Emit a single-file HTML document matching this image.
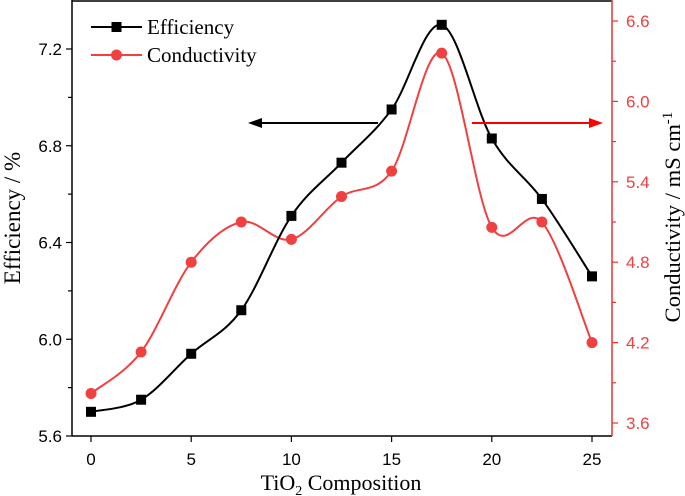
<!DOCTYPE html>
<html><head><meta charset="utf-8"><style>
html,body{margin:0;padding:0;background:#fff;}
svg{display:block;}
</style></head><body>
<svg id="chart" width="685" height="496" xmlns="http://www.w3.org/2000/svg"></svg>
<script>
const categories = [0, 2.5, 5, 7.5, 10, 12.5, 15, 17.5, 20, 22.5, 25];
const efficiency = [5.70, 5.75, 5.94, 6.12, 6.51, 6.73, 6.95, 7.30, 6.83, 6.58, 6.26];
const conductivity = [3.82, 4.13, 4.80, 5.10, 4.97, 5.29, 5.48, 6.36, 5.06, 5.10, 4.20];
const xTicks = [0, 5, 10, 15, 20, 25];
const leftTicks = [5.6, 6.0, 6.4, 6.8, 7.2];
const rightTicks = [3.6, 4.2, 4.8, 5.4, 6.0, 6.6];

const NS = "http://www.w3.org/2000/svg";
const svg = document.getElementById("chart");
const L = 72, R = 612, B = 436, T = 1;
const x = v => 91 + (v - 0) * (592 - 91) / 25;
const yL = v => 436 - (v - 5.6) * (436 - 49) / 1.6;
const yR = v => 423 - (v - 3.6) * (423 - 21) / 3.0;

function el(tag, attrs, parent) {
  const e = document.createElementNS(NS, tag);
  for (const k in attrs) e.setAttribute(k, attrs[k]);
  (parent || svg).appendChild(e);
  return e;
}
function smooth(pts) {
  let d = `M${pts[0][0]},${pts[0][1]}`;
  for (let i = 0; i < pts.length - 1; i++) {
    const p0 = pts[i - 1] || pts[i], p1 = pts[i], p2 = pts[i + 1], p3 = pts[i + 2] || p2;
    const c1 = [p1[0] + (p2[0] - p0[0]) / 6, p1[1] + (p2[1] - p0[1]) / 6];
    const c2 = [p2[0] - (p3[0] - p1[0]) / 6, p2[1] - (p3[1] - p1[1]) / 6];
    d += ` C${c1[0]},${c1[1]} ${c2[0]},${c2[1]} ${p2[0]},${p2[1]}`;
  }
  return d;
}
const font = '"Liberation Sans", sans-serif';
const serif = '"Liberation Serif", serif';

// axes
let a = el("line", {x1: L, y1: T, x2: R, y2: T, stroke: "#000", "stroke-width": 1.5});


a = el("line", {x1: L, y1: 0, x2: L, y2: B, stroke: "#000", "stroke-width": 1.5});


a = el("line", {x1: L, y1: B, x2: R, y2: B, stroke: "#000", "stroke-width": 1.5});


a = el("line", {x1: R, y1: 0, x2: R, y2: B, stroke: "#f03030", "stroke-width": 1.5});



xTicks.forEach(v => {
  el("line", {x1: x(v), y1: B, x2: x(v), y2: B + 6, stroke: "#000", "stroke-width": 1.2});
  const t = el("text", {x: x(v), y: B + 29, "text-anchor": "middle", "font-family": font, "font-size": 17}); t.textContent = v;
  
  
});
leftTicks.forEach((v, i) => {
  el("line", {x1: L - 6, y1: yL(v), x2: L, y2: yL(v), stroke: "#000", "stroke-width": 1.2});
  if (i < leftTicks.length - 1) el("line", {x1: L - 4, y1: yL(v + 0.2), x2: L, y2: yL(v + 0.2), stroke: "#000", "stroke-width": 1.2});
  const t = el("text", {x: L - 10, y: yL(v) + 6, "text-anchor": "end", "font-family": font, "font-size": 17}); t.textContent = v.toFixed(1);
  
  
});
rightTicks.forEach((v, i) => {
  el("line", {x1: R, y1: yR(v), x2: R + 6, y2: yR(v), stroke: "#f03030", "stroke-width": 1.2});
  if (i < rightTicks.length - 1) el("line", {x1: R, y1: yR(v + 0.3), x2: R + 4, y2: yR(v + 0.3), stroke: "#f03030", "stroke-width": 1.2});
  const t = el("text", {x: R + 14, y: yR(v) + 6, "text-anchor": "start", "font-family": font, "font-size": 17, fill: "#f04040"}); t.textContent = v.toFixed(1);
  
  
});

// series
const effPts = categories.map((c, i) => [x(c), yL(efficiency[i])]);
const conPts = categories.map((c, i) => [x(c), yR(conductivity[i])]);
let p = el("path", {d: smooth(conPts), fill: "none", stroke: "#f04040", "stroke-width": 2});


p = el("path", {d: smooth(effPts), fill: "none", stroke: "#000", "stroke-width": 2});


effPts.forEach(pt => {
  const r = el("rect", {x: pt[0] - 5, y: pt[1] - 5, width: 10, height: 10, fill: "#000"});
  
  
});
conPts.forEach(pt => {
  const c = el("circle", {cx: pt[0], cy: pt[1], r: 5.5, fill: "#f04040"});
  
  
});

// arrows
el("line", {x1: 378, y1: 123, x2: 256, y2: 123, stroke: "#000", "stroke-width": 2});
el("polygon", {points: "248,123 262,118 262,128", fill: "#000"});
el("line", {x1: 472, y1: 123, x2: 594, y2: 123, stroke: "#f00", "stroke-width": 2});
el("polygon", {points: "603,123 589,118 589,128", fill: "#f00"});

// legend
const lg = el("g", {});


el("line", {x1: 91, y1: 27, x2: 142, y2: 27, stroke: "#000", "stroke-width": 2}, lg);
el("rect", {x: 111.5, y: 22, width: 10, height: 10, fill: "#000"}, lg);
let t = el("text", {x: 147, y: 34, "font-family": serif, "font-size": 21}, lg); t.textContent = "Efficiency";


el("line", {x1: 91, y1: 55, x2: 142, y2: 55, stroke: "#f04040", "stroke-width": 2}, lg);
el("circle", {cx: 116.5, cy: 55, r: 5.5, fill: "#f04040"}, lg);
t = el("text", {x: 147, y: 62, "font-family": serif, "font-size": 21}, lg); t.textContent = "Conductivity";



// axis titles
t = el("text", {x: 341, y: 490, "text-anchor": "middle", "font-family": serif, "font-size": 22});
t.innerHTML = 'TiO<tspan font-size="14" dy="5">2</tspan><tspan dy="-5"> Composition</tspan>';


t = el("text", {x: 0, y: 0, "text-anchor": "middle", "font-family": serif, "font-size": 23, transform: "translate(20,218) rotate(-90)"});
t.textContent = "Efficiency / %";


t = el("text", {x: 0, y: 0, "text-anchor": "middle", "font-family": serif, "font-size": 22.5, transform: "translate(680,217) rotate(-90)"});
t.innerHTML = 'Conductivity / mS cm<tspan font-size="15" dy="-8">-1</tspan>';


</script>
</body></html>
